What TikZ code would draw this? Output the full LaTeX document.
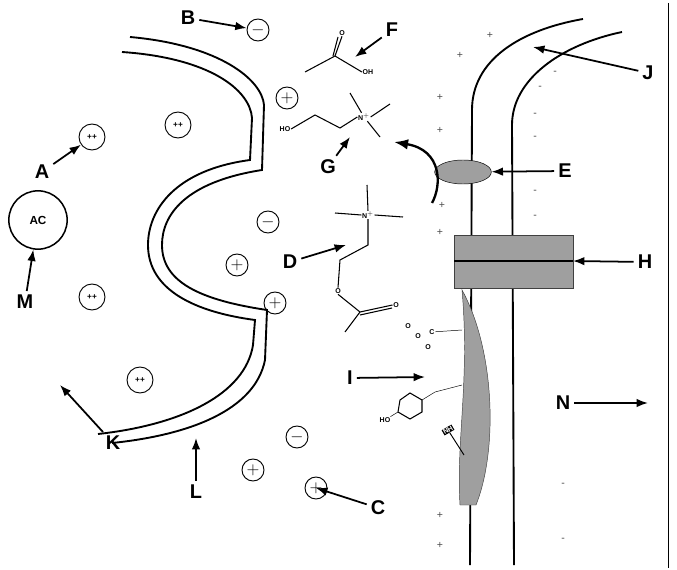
\documentclass[tikz,border=0pt]{standalone}
\usepackage{fontspec}
\setmainfont{Liberation Sans}
\usetikzlibrary{shapes.geometric, arrows.meta, positioning}

\begin{document}
\begin{tikzpicture}[
    x=0.03cm, y=-0.03cm,
    membrane/.style={line width=1.6pt},
    arrow/.style={-Latex, line width=1.5pt},
    letter/.style={font=\fontsize{17}{17}\selectfont\bfseries},
    ion/.style={circle, draw, thick, minimum size=0.66cm, inner sep=0pt, font=\Large},
    dion/.style={circle, draw, thick, minimum size=0.78cm, inner sep=0pt, font=\scriptsize\bfseries},
    atom/.style={font=\fontsize{6}{6}\selectfont\bfseries, inner sep=0.5pt},
    bond/.style={line width=0.9pt},
    every node/.append style={font=\small}
]
    \useasboundingbox (0,0) rectangle (677,570);
    \draw[thick] (668,3) -- (668,568);

    % Presynaptic membrane
    \draw[membrane] (130,37) .. controls (220,45) and (262,80) .. (264,105) -- (262,170)
        .. controls (185,182) and (162,215) .. (162,245) .. controls (162,282) and (200,300) .. (267,310)
        -- (265,360) .. controls (255,410) and (190,435) .. (112,443);
    \draw[membrane] (122,52) .. controls (210,58) and (250,90) .. (252,118) -- (250,160)
        .. controls (175,170) and (148,210) .. (148,245) .. controls (148,290) and (195,312) .. (255,320)
        -- (253,345) .. controls (245,395) and (180,425) .. (98,434);

    % Postsynaptic membrane
    \draw[membrane] (583,19) .. controls (520,30) and (472,60) .. (472,110) -- (470,565);
    \draw[membrane] (622,32) .. controls (560,45) and (512,80) .. (512,125) -- (514,565);
    \node[ellipse, draw, fill=gray!75, minimum width=1.7cm, minimum height=0.72cm, inner sep=0pt] (rec) at (463,172) {};
    \draw[fill=gray!75, draw=gray!50!black] (454,235) rectangle (573,288);
    \draw[line width=1.5pt] (454,261) -- (573,261);
    \coordinate (chan) at (573,261);
    \draw[fill=gray!75, draw=gray!50!black] (462,290) .. controls (495,350) and (498,450) .. (476,505)
        -- (460,505) .. controls (456,440) and (470,380) .. (462,290) -- cycle;

    % Ions
    \node[ion] (b) at (258,30) {$-$};
    \foreach \px/\py in {287/98, 237/265, 275/303, 253/470, 316/488} {
        \node[ion] at (\px,\py) {$+$};
    }
    \foreach \px/\py in {268/222, 297/437} {
        \node[ion] at (\px,\py) {$-$};
    }
    \coordinate (cion) at (316,488);
    \node[dion] (a) at (92,137) {++};
    \foreach \px/\py in {178/125, 92/297, 140/380} {
        \node[dion] at (\px,\py) {++};
    }
    \node[circle, draw, line width=1.3pt, minimum size=1.75cm, font=\bfseries] (ac) at (38,220) {AC};
    \foreach \px/\py in {490/35, 460/55, 440/97, 440/130, 442/205, 440/232, 440/515, 440/545} {
        \node[text=black!70] at (\px,\py) {+};
    }
    \foreach \px/\py in {555/73, 540/88, 535/115, 535/138, 535/192, 535/217, 563/485, 563/540} {
        \node[text=black!70] at (\px,\py) {-};
    }

    % Acetic acid
    \node[atom] (fo) at (342,33) {O};
    \node[atom] (foh) at (368,72) {OH};
    \draw[bond] (305,72) -- (335,56) -- (foh.west);
    \draw[bond] (335,56) -- (fo.south) (333,56) -- (338,37);
    \coordinate (facid) at (355,57);

    % Choline
    \node[atom] (gho) at (285,129) {HO};
    \node[atom] (gn) at (364,117) {N$^+$};
    \draw[bond] (gho.east) -- (315,115) -- (340,128) -- (gn.west);
    \draw[bond] (350,93) -- (gn) -- (380,137) (gn.east) -- (390,104);
    \coordinate (chol) at (350,137);

    % Acetylcholine
    \node[atom] (dn) at (368,215) {N$^+$};
    \node[atom] (do) at (338,291) {O};
    \node[atom] (doo) at (396,305) {O};
    \draw[bond] (367,185) -- (dn.north) (335,213) -- (dn.west) (dn.east) -- (403,217);
    \draw[bond] (dn.south) -- (368,245) -- (340,260) -- (do.north);
    \draw[bond] (do.south) -- (360,312) -- (345,332) (360,312) -- (doo.west) (360,315) -- (392,308);
    \coordinate (ach) at (346,245);

    % Binding site residues
    \node[atom] (co1) at (408,326) {O};
    \node[atom] (co2) at (418,336) {O};
    \node[atom] (cc) at (432,332) {C};
    \node[atom] (co3) at (428,347) {O};
    \draw[thin] (cc) -- (462,330);
    \draw[bond] (400,400) -- (410,393) -- (422,400) -- (422,412) -- (410,419) -- (398,412) -- cycle;
    \node[atom] (tho) at (385,420) {HO};
    \draw[thin] (tho) -- (398,412) (422,400) -- (435,392) -- (462,385);
    \node[atom, rotate=30, fill=black, text=white] (nh) at (448,430) {NH};
    \draw[thick] (nh) -- (464,455);

    % Labels
    \node[letter] (la) at (42,172) {A};
    \node[letter] (lb) at (188,18) {B};
    \node[letter] (lc) at (378,508) {C};
    \node[letter] (ld) at (290,262) {D};
    \node[letter] (le) at (565,171) {E};
    \node[letter] (lf) at (392,30) {F};
    \node[letter] (lg) at (328,167) {G};
    \node[letter] (lh) at (645,262) {H};
    \node[letter] (li) at (350,378) {I};
    \node[letter] (lj) at (648,73) {J};
    \node[letter] (lk) at (113,443) {K};
    \node[letter] (ll) at (196,492) {L};
    \node[letter] (lm) at (25,302) {M};
    \node[letter] (ln) at (563,403) {N};
    \coordinate (kend) at (60,385);
    \coordinate (lend) at (196,438);
    \coordinate (nend) at (648,403);
    \coordinate (jend) at (533,47);
    \coordinate (iend) at (425,377);
    \coordinate (arcstart) at (432,203);

    % Arrows
    \draw[arrow] (la) -- (a);
    \draw[arrow] (lb) -- (b);
    \draw[arrow] (lc) -- (cion);
    \draw[arrow] (ld) -- (ach);
    \draw[arrow] (le) -- (rec);
    \draw[arrow] (lf) -- (facid);
    \draw[arrow] (lg) -- (chol);
    \draw[arrow] (lh) -- (chan);
    \draw[arrow] (li) -- (iend);
    \draw[arrow] (lj) -- (jend);
    \draw[arrow] (lk) -- (kend);
    \draw[arrow] (ll) -- (lend);
    \draw[arrow] (lm) -- (ac);
    \draw[arrow] (ln) -- (nend);
    \draw[arrow, line width=2pt] (arcstart) .. controls (442,185) and (442,150) .. (394,142);
\end{tikzpicture}
\end{document}
